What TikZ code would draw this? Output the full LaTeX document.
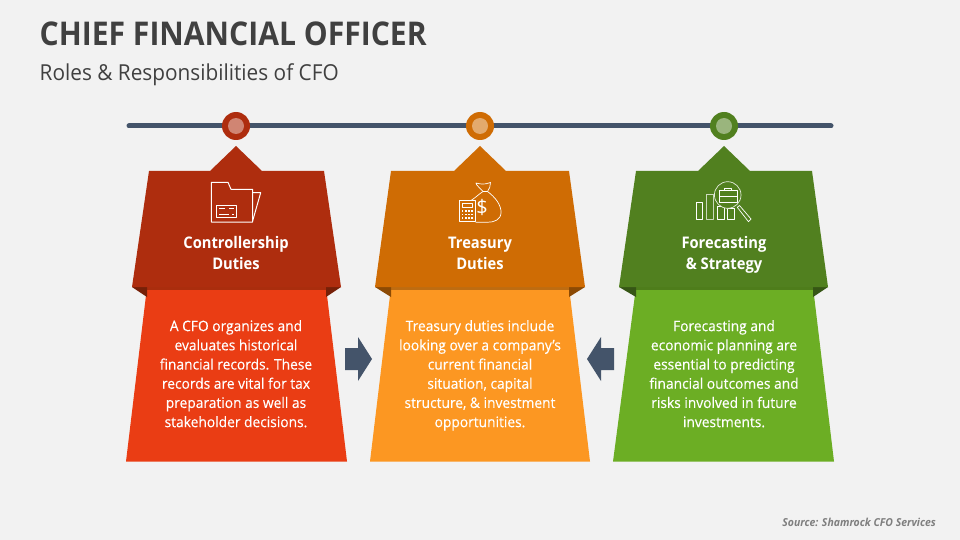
\documentclass[tikz,border=0pt]{standalone}
\usepackage{fontspec}
\setmainfont{Open Sans}
\newfontfamily\bodyfont[FakeBold=0.25,FakeStretch=0.95]{Open Sans}
\newfontfamily\headfont[FakeStretch=0.92]{Open Sans}
\newfontfamily\titlefont[FakeStretch=0.92]{Open Sans}
\newfontfamily\subfont[FakeStretch=0.945]{Open Sans}
\newfontfamily\sourcefont[FakeStretch=0.95]{Open Sans}
\usetikzlibrary{positioning}
\definecolor{paper}{HTML}{F2F2F2}
\definecolor{slate}{HTML}{44546A}
\definecolor{inktitle}{HTML}{404040}
\definecolor{inksource}{HTML}{7F7F7F}
\definecolor{headred}{HTML}{AE2D0E}
\definecolor{bodyred}{HTML}{EA3D14}
\definecolor{foldred}{HTML}{762008}
\definecolor{headorange}{HTML}{CF6C04}
\definecolor{bodyorange}{HTML}{FC9722}
\definecolor{foldorange}{HTML}{8C4A04}
\definecolor{headgreen}{HTML}{51801F}
\definecolor{bodygreen}{HTML}{6CAE24}
\definecolor{foldgreen}{HTML}{365615}
\tikzset{
  headtext/.style={text=white,align=center,inner sep=0pt,font=\fontsize{16}{21}\headfont\bfseries,execute at begin node=\strut,execute at end node=\strut},
  bodytext/.style={text=white,align=center,inner sep=0pt,font=\fontsize{14.5}{19.2}\bodyfont,execute at begin node=\strut,execute at end node=\strut},
  icon/.style={draw=white,line width=1pt,line join=round},
  iconthin/.style={draw=white,line width=0.7pt,line join=round},
  dot/.style={circle,minimum size=28pt,inner sep=0pt},
  innerdot/.style={circle,minimum size=16pt,inner sep=0pt},
  pointer/.style={fill=slate}
}
\begin{document}
\begin{tikzpicture}[x=1pt,y=-1pt]
	\useasboundingbox[fill=paper] (0,0) rectangle (960,540);

	% titre
	\node[anchor=base west,inner sep=0pt,text=inktitle,font=\fontsize{32.7}{36}\titlefont\bfseries] (title) at (39.5,46) {CHIEF FINANCIAL OFFICER};
	\node[anchor=base west,inner sep=0pt,text=inktitle,font=\fontsize{22}{26}\subfont] (subtitle) at (39.5,81) {Roles \& Responsibilities of CFO};
	\node[anchor=base east,inner sep=0pt,text=inksource,font=\fontsize{11}{13}\sourcefont\bfseries\itshape] (source) at (936,526.5) {Source: Shamrock CFO Services};

	% ligne
	\coordinate (linestart) at (129,126);
	\coordinate (lineend) at (831,126);
	\draw[slate,line width=5pt,line cap=round] (linestart) -- (lineend);

	% colonnes
	\foreach \n/\cc/\xa/\xb/\xc/\xd/\xe/\xf/\xg/\xh in {
		red/236/149/324/132/341/147/326/126/347,
		orange/480/391/569/375/585/391/569/370/590,
		green/724/636/812/619/828/636/813/613/834} {
		\node[dot,fill=head\n] (dot\n) at (\cc,126) {};
		\node[innerdot,fill=white!42!head\n] (inner\n) at (\cc,126) {};

		% corps
		\fill[body\n] (\xe,287) -- (\xf,287) -- (\xh,461.5) -- (\xg,461.5) -- cycle;
		\fill[fold\n] (\xc,287) -- (\xe,297) -- (\xe,287) -- cycle;
		\fill[fold\n] (\xd,287) -- (\xf,297) -- (\xf,287) -- cycle;
		\fill[fold\n,opacity=0.55] (\xe,287) rectangle (\xf,290);

		% tete
		\fill[head\n] (\xa,171) -- (\cc-26,171) -- (\cc,146) -- (\cc+26,171) -- (\xb,171) -- (\xd,287) -- (\xc,287) -- cycle;
	}

	% fleches
	\fill[pointer] (345,348) -- (358,348) -- (358,337) -- (372,359) -- (358,381) -- (358,370) -- (345,370) -- cycle;
	\fill[pointer] (614,348) -- (601,348) -- (601,337) -- (587,359) -- (601,381) -- (601,370) -- (614,370) -- cycle;

	% dossier
	\draw[icon] (211.3,182.3) -- (228,182.3) -- (231,189.3) -- (252.7,189.3) -- (252.7,222) -- (211.3,222) -- cycle;
	\draw[icon] (252.7,192.7) -- (260.7,192.7) -- (252.7,220.7);
	\draw[iconthin] (216.3,205.3) rectangle (236.3,217.3);
	\draw[iconthin] (219,208.5) -- (225,208.5) (229,208.5) -- (233.5,208.5) (219,214) -- (229,214) (232,214) -- (233.5,214);

	% sac
	\draw[iconthin] (483,191.5) .. controls (480,188) and (476,185) .. (476,183) .. controls (480,184) and (484,185) .. (490.5,182.5) .. controls (491,186) and (489,189) .. (487.5,191.5) -- cycle;
	\draw[iconthin] (483,191.5) .. controls (479,194) and (475,198) .. (471,200.5);
	\draw[iconthin] (487.5,191.5) .. controls (495,197) and (501.5,205) .. (501,213) .. controls (500.5,220) and (494,222.3) .. (487,222.3) -- (475.5,222.3);
	\node[text=white,inner sep=0pt,font=\fontsize{20}{20}\selectfont] (dollar) at (482,207) {\$};
	\draw[iconthin] (459.3,200.7) rectangle (475,221.7);
	\draw[iconthin] (462,203.5) rectangle (472.3,207.5);
	\foreach \ky in {211,214.5,218} {
		\foreach \kx in {462.5,465.8,469,472} {
			\fill[white] (\kx-0.9,\ky-0.9) rectangle (\kx+0.9,\ky+0.9);
		}
	}

	% graphique
	\draw[icon] (696,202.3) rectangle (702.7,219.3);
	\draw[icon,white!70!headgreen] (706.7,194) rectangle (713.3,219.3);
	\draw[iconthin] (717.3,206.7) rectangle (724,219.3);
	\draw[iconthin] (727.7,208) rectangle (734.3,219.3);
	\fill[headgreen] (727.7,195) circle (13.3);
	\draw[iconthin,white!85!headgreen] (727.7,195) circle (13.3);
	\draw[iconthin] (719,190.7) rectangle (737.3,202.3);
	\draw[iconthin] (724.5,190.7) -- (724.5,188) -- (731.5,188) -- (731.5,190.7);
	\draw[iconthin] (719,196) -- (737.3,196);
	\draw[iconthin] (737.3,207.3) -- (739.5,205.5) -- (751,219) -- (748.5,221.7) -- cycle;

	% textes
	\node[headtext] (headred) at (236,256) {Controllership\\Duties};
	\node[headtext] (headorange) at (480,256) {Treasury\\Duties};
	\node[headtext] (headgreen) at (724,256) {Forecasting\\\& Strategy};
	\node[bodytext] (textred) at (236,376.5) {A CFO organizes and\\evaluates historical\\financial records. These\\records are vital for tax\\preparation as well as\\stakeholder decisions.};
	\node[bodytext] (textorange) at (480,376.5) {Treasury duties include\\looking over a company’s\\current financial\\situation, capital\\structure, \& investment\\opportunities.};
	\node[bodytext] (textgreen) at (724,376.5) {Forecasting and\\economic planning are\\essential to predicting\\financial outcomes and\\risks involved in future\\investments.};
\end{tikzpicture}
\end{document}
